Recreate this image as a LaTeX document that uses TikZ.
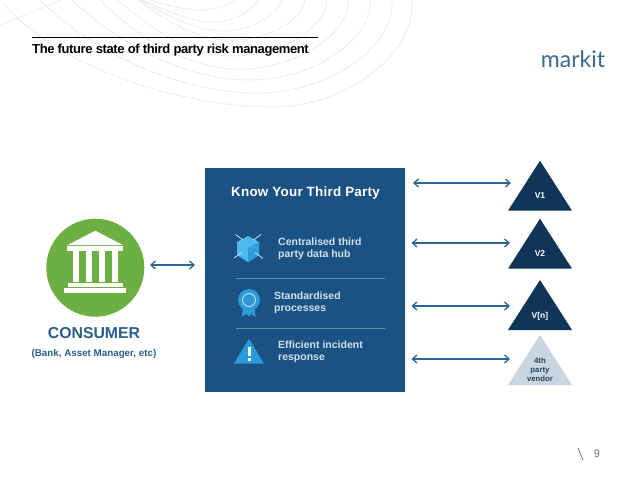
\documentclass[tikz,border=0pt]{standalone}
\usepackage{fontspec}
\setmainfont{Liberation Sans}
\newfontfamily\logofont{Lato}
\usetikzlibrary{shapes.geometric,arrows.meta}
\definecolor{panelblue}{HTML}{1B5284}
\definecolor{navy}{HTML}{0F3557}
\definecolor{paletri}{HTML}{C9D6E2}
\definecolor{arrowblue}{HTML}{2A6594}
\definecolor{consgreen}{HTML}{6CB044}
\definecolor{constext}{HTML}{2A5F8E}
\definecolor{iconblue}{HTML}{2A9AD8}
\definecolor{cubelight}{HTML}{4DB8EE}
\definecolor{cubedark}{HTML}{2E9FDC}
\definecolor{hubtext}{HTML}{CFE0EE}
\definecolor{divider}{HTML}{5F8DB2}
\definecolor{swirl}{HTML}{E9ECF1}
\definecolor{logoblue}{HTML}{3C6A8A}
\tikzset{
  x=1pt,y=-1pt,
  swirlline/.style={draw=swirl,line width=0.8pt},
  link/.style={draw=arrowblue,line width=1.3pt,{Straight Barb[length=4.5pt,width=8pt,line width=1.3pt]}-{Straight Barb[length=4.5pt,width=8pt,line width=1.3pt]}},
  vendor/.style={isosceles triangle,isosceles triangle apex angle=65,isosceles triangle stretches,shape border rotate=90,minimum width=64pt,minimum height=50pt,inner sep=0pt,outer sep=0pt,anchor=lower side},
  vtext/.style={text=white,font=\bfseries\fontsize{8.5}{10}\selectfont,inner sep=0pt},
  hubitem/.style={text=hubtext,font=\bfseries\fontsize{10.5}{12.3}\selectfont,align=left,anchor=west,inner sep=0pt},
  rulewhite/.style={draw=divider,line width=0.7pt},
  temple/.style={fill=white,draw=none},
  spoke/.style={draw=hubtext,line width=0.8pt}
}
\begin{document}
\begin{tikzpicture}
\useasboundingbox (0,0) rectangle (638,479);
\fill[white] (0,0) rectangle (638,479);
% background swirl
\draw[swirlline] (412,0) .. controls (416,55) and (345,107) .. (273,107) .. controls (185,107) and (60,70) .. (3,3);
\draw[swirlline] (392,0) .. controls (395,50) and (325,93) .. (258,93) .. controls (175,93) and (90,50) .. (40,0);
\draw[swirlline] (370,0) .. controls (372,42) and (310,80) .. (250,80) .. controls (180,80) and (115,40) .. (72,0);
\draw[swirlline] (348,0) .. controls (350,35) and (295,69) .. (240,69) .. controls (185,69) and (135,35) .. (100,0);
\draw[swirlline] (327,0) .. controls (325,30) and (280,56) .. (232,56) .. controls (190,56) and (150,28) .. (118,0);
\draw[swirlline] (305,0) .. controls (302,22) and (265,41) .. (228,40) .. controls (195,39) and (165,20) .. (138,0);
\draw[swirlline] (282,0) .. controls (275,17) and (250,31) .. (222,31) .. controls (195,31) and (160,12) .. (140,0);
\draw[swirlline] (258,0) .. controls (250,12) and (232,22) .. (212,22) .. controls (190,22) and (160,8) .. (142,0);
\draw[swirlline] (235,0) .. controls (230,5) and (215,10) .. (200,10) .. controls (185,10) and (165,5) .. (150,0);
\draw[swirlline] (0,25) -- (62,0);
% header
\draw[black,line width=0.8pt] (32,37.5) -- (318,37.5);
\node[anchor=west,inner sep=0pt,font=\bfseries\fontsize{13}{15}\selectfont] (title) at (32,50) {\addfontfeature{LetterSpace=-3}The future state of third party risk management};
\node[anchor=center,inner sep=0pt,text=logoblue,font=\logofont\fontsize{23}{25}\selectfont] (logo) at (573,59) {markit};
% consumer
\node[circle,fill=consgreen,minimum size=98pt,inner sep=0pt] (cons) at (95.3,267.7) {};
\fill[temple] (95.3,230.7) -- (122.7,245) -- (67.7,245) -- cycle;
\fill[temple] (67.3,246) rectangle (123.3,250.7);
\foreach \px in {72.7,85.7,98.7,111.7}{\fill[temple] (\px,251) rectangle (\px+6.6,282);}
\fill[temple] (67.7,283) rectangle (122.7,287);
\fill[temple] (64.3,288.3) rectangle (126,293.3);
\node[text=constext,font=\bfseries\fontsize{15.8}{18}\selectfont,inner sep=0pt] (constitle) at (94,333) {CONSUMER};
\node[text=constext,font=\bfseries\fontsize{9.8}{11}\selectfont,inner sep=0pt] (conssub) at (94,354) {(Bank, Asset Manager, etc)};
% panel
\node[fill=panelblue,minimum width=200pt,minimum height=223.5pt,inner sep=0pt,outer sep=0pt] (panel) at (304.6,280) {};
\node[text=white,font=\bfseries\fontsize{13.4}{15}\selectfont,inner sep=0pt] (kytp) at (305.5,193) {\addfontfeature{LetterSpace=2}Know Your Third Party};
% hub icon
\fill[cubelight] (248,236) -- (259,242) -- (259,255) -- (248,262) -- (237,255) -- (237,242) -- cycle;
\fill[cubedark] (248,248) -- (259,242) -- (259,255) -- (248,262) -- cycle;
\draw[spoke] (235.5,234.5) -- (243,240);
\draw[spoke] (261,234.5) -- (253.5,240);
\draw[spoke] (234,258) -- (242,252.5);
\draw[spoke] (263,258.5) -- (255,252.5);
\node[hubitem] (hub) at (278,248.5) {Centralised third\\party data hub};
\draw[rulewhite] (236,278) -- (385,278);
% ribbon icon
\fill[iconblue] (243,307) -- (242,316.7) -- (246.5,314) -- (249,316.7) -- (251,314) -- (255.5,316.7) -- (254.5,307) -- cycle;
\fill[iconblue] (249,300) circle (11);
\draw[hubtext,line width=0.9pt] (249,300) circle (6.5);
\node[hubitem] (std) at (274,302.5) {Standardised\\processes};
\draw[rulewhite] (236,328) -- (385,328);
% warning icon
\fill[iconblue] (249,339) -- (264,363.5) -- (234,363.5) -- cycle;
\fill[white] (248,347) rectangle (250.5,356);
\fill[white] (248,358) rectangle (250.5,360.5);
\node[hubitem] (inc) at (278,351.5) {Efficient incident\\response};
% vendors
\node[vendor,fill=navy] (v1) at (540,210.7) {};
\node[vendor,fill=navy] (v2) at (540,268.7) {};
\node[vendor,fill=navy] (vn) at (540,330) {};
\node[vendor,fill=paletri] (v4) at (540,385) {};
\node[vtext] (v1t) at (540,196) {V1};
\node[vtext] (v2t) at (540,254) {V2};
\node[vtext] (vnt) at (540,316) {V[n]};
\node[text=navy!80!gray,font=\bfseries\fontsize{7.8}{9.2}\selectfont,align=center,inner sep=0pt] (v4t) at (540,370) {4th\\party\\vendor};
% connector ends
\coordinate (a0) at (150,265); \coordinate (b0) at (195,265);
\coordinate (a1) at (413,183); \coordinate (b1) at (511,183);
\coordinate (a2) at (411.5,243); \coordinate (b2) at (510,243);
\coordinate (a3) at (411.5,306); \coordinate (b3) at (510,306);
\coordinate (a4) at (411.5,359); \coordinate (b4) at (510,359);
\draw[link] (a0) -- (b0);
\draw[link] (a1) -- (b1);
\draw[link] (a2) -- (b2);
\draw[link] (a3) -- (b3);
\draw[link] (a4) -- (b4);
% page number
\coordinate (s1) at (578,448); \coordinate (s2) at (583,460);
\draw[black!60,line width=0.7pt] (s1) -- (s2);
\node[text=black!55,font=\fontsize{11}{13}\selectfont,inner sep=0pt] (page) at (597,454) {9};
\end{tikzpicture}
\end{document}
